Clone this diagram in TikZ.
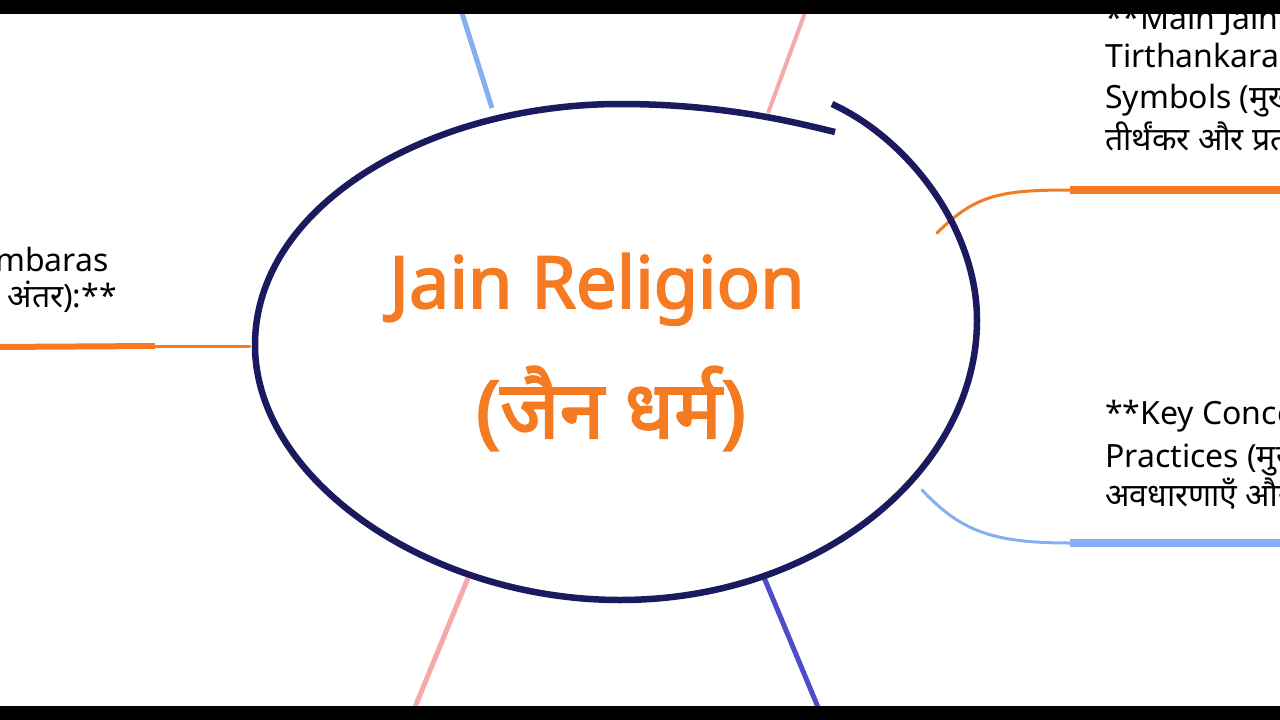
\documentclass[tikz,border=0pt]{standalone}
\usepackage{fontspec}
\setmainfont[Script=Devanagari]{Noto Sans}
\newfontfamily\ttlfont[Script=Devanagari, FakeBold=2.5]{Noto Sans}
\definecolor{navy}{HTML}{1C1A5E}
\definecolor{orng}{HTML}{F57B22}
\definecolor{lblue}{HTML}{86AEF2}
\definecolor{pinkc}{HTML}{F6A9A9}
\definecolor{bpurp}{HTML}{4D4DC9}
\tikzset{
  lbl/.style={inner sep=0pt, font=\fontsize{32}{40}\selectfont, text=black},
  ttl/.style={inner sep=0pt, font=\ttlfont\fontsize{72}{80}\selectfont, text=orng},
  thin/.style={line width=3pt, line cap=round},
  thick/.style={line width=8pt}
}
\begin{document}
\begin{tikzpicture}[x=1pt,y=-1pt]
\useasboundingbox (0,0) rectangle (1280,720);
\clip (0,0) rectangle (1280,720);
\fill[white] (0,0) rectangle (1280,720);

% connector end points
\coordinate (tlA) at (492,108);
\coordinate (tlB) at (461,10);
\coordinate (tpA) at (768,113);
\coordinate (tpB) at (806,10);
\coordinate (blA) at (468,578);
\coordinate (blB) at (413,712);
\coordinate (brA) at (763,575);
\coordinate (brB) at (820,712);
\coordinate (lA) at (250,346);
\coordinate (lM) at (155,346);
\coordinate (lB) at (-5,347);
\coordinate (roA) at (937,233);
\coordinate (roM) at (1070,190);
\coordinate (roB) at (1285,190);
\coordinate (rbA) at (922,490);
\coordinate (rbM) at (1070,543);
\coordinate (rbB) at (1285,543);

% connectors
\draw[lblue, line width=5pt] (tlA) -- (tlB);
\draw[pinkc, line width=4pt] (tpA) -- (tpB);
\draw[pinkc, line width=5pt] (blA) -- (blB);
\draw[bpurp, line width=5pt] (brA) -- (brB);
\draw[orng, thin] (lA) -- (lM);
\draw[orng, line width=6pt] (lM) -- (lB);
\draw[orng, thin] (roA) .. controls (975,195) and (1000,190) .. (roM);
\draw[orng, thick] (roM) -- (roB);
\draw[lblue, thin] (rbA) .. controls (960,530) and (990,543) .. (rbM);
\draw[lblue, thick] (rbM) -- (rbB);

% central outline
\draw[navy, line width=6.5pt]
  (832,104) .. controls (910,140) and (977,230) .. (977,320)
  .. controls (977,470) and (820,600) .. (620,600)
  .. controls (430,600) and (255,480) .. (255,345)
  .. controls (255,205) and (430,104) .. (620,104)
  .. controls (720,104) and (790,121) .. (835,132);

% title
\node[ttl, anchor=base] (t1) at (597,308) {Jain Religion};
\node[ttl, anchor=base, font=\ttlfont\fontsize{80}{88}\selectfont] (t2) at (611,438) {(जैन धर्म)};

% top right block
\node[lbl, anchor=base west] (a1) at (1105,29) {**Main Jain};
\node[lbl, anchor=base west] (a2) at (1105,67) {Tirthankaras and};
\node[lbl, anchor=base west] (a3) at (1105,108) {Symbols (मुख्य जैन};
\node[lbl, anchor=base west] (a4) at (1105,150) {तीर्थंकर और प्रतीक):**};

% right middle block
\node[lbl, anchor=base west] (b1) at (1105,424) {**Key Concepts and};
\node[lbl, anchor=base west] (b2) at (1105,467) {Practices (मुख्य};
\node[lbl, anchor=base west] (b3) at (1105,506) {अवधारणाएँ और प्रथाएँ):**};

% left block
\node[lbl, anchor=base east] (c1) at (109,271) {and Svetambaras};
\node[lbl, anchor=base east] (c2) at (117,307) {(दिगंबर और श्वेतांबर में अंतर):**};

% letterbox bars
\fill[black] (0,0) rectangle (1280,14);
\fill[black] (0,706) rectangle (1280,720);
\end{tikzpicture}
\end{document}
